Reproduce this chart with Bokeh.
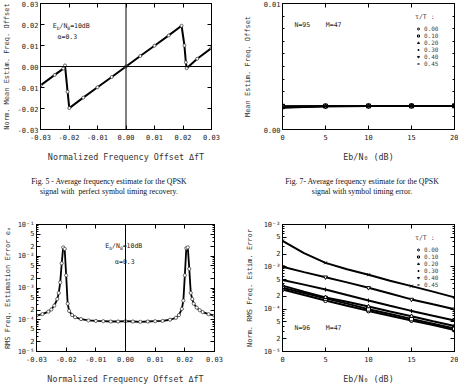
from bokeh.plotting import figure
from bokeh.models import (Range1d, FixedTicker, LinearAxis, LogAxis, Span, Label,
                          Legend, LegendItem, Div, CustomJSTickFormatter)
from bokeh.layouts import column, row
from bokeh.embed import file_html
from bokeh.resources import INLINE

FONT = "DejaVu Sans Mono"
TICK_PX = 7
LBL_PX = 8.4
YLBL_PX = 7

# ---------------- data ----------------
# Fig.5 top: mean frequency estimate vs normalized offset
f5_x = [-0.03, -0.025, -0.022, -0.0214, -0.0205, -0.0199, -0.015, -0.01, -0.005, 0.0,
        0.005, 0.01, 0.015, 0.0195, 0.0205, 0.021, 0.0213, 0.025, 0.03]
f5_y = [-0.0090, -0.0040, -0.0010, 0.0005, -0.0120, -0.0198, -0.0148, -0.0099, -0.0050, 0.0,
        0.0050, 0.0099, 0.0148, 0.0194, 0.0100, 0.0020, -0.0008, 0.0037, 0.0088]

# Fig.5 bottom: RMS estimation error vs normalized offset
f6_x = [-0.03, -0.028, -0.026, -0.025, -0.024, -0.023, -0.0225, -0.022, -0.0215, -0.021,
        -0.0205, -0.02, -0.0195, -0.019, -0.018, -0.017, -0.015, -0.0125, -0.01, -0.0075,
        -0.005, -0.0025, 0.0, 0.0025, 0.005, 0.0075, 0.01, 0.0125, 0.015, 0.017, 0.018,
        0.019, 0.0195, 0.02, 0.0205, 0.021, 0.0215, 0.022, 0.0225, 0.023, 0.024, 0.025,
        0.026, 0.028, 0.03]
f6_y = [1.35e-4, 1.5e-4, 1.8e-4, 2.1e-4, 2.8e-4, 4.5e-4, 7e-4, 1.5e-3, 6e-3, 1.9e-2,
        1.7e-2, 2.5e-3, 3.2e-4, 1.9e-4, 1.4e-4, 1.2e-4, 1.05e-4, 9.5e-5, 9.2e-5, 9e-5,
        8.8e-5, 8.8e-5, 9e-5, 8.8e-5, 8.6e-5, 8.8e-5, 9e-5, 9.2e-5, 1.0e-4, 1.15e-4, 1.4e-4,
        2.2e-4, 4e-4, 2.5e-3, 1.8e-2, 1.9e-2, 4e-3, 7e-4, 4.5e-4, 3.2e-4, 2.4e-4, 2e-4,
        1.75e-4, 1.5e-4, 1.35e-4]

tau_labels = ["0.00", "0.10", "0.20", "0.30", "0.40", "0.45"]
tau_markers = ["circle", "square", "triangle", "cross", "inverted_triangle", "x"]

# Fig.7 top: mean estimate vs Eb/N0 for each tau/T
f7_x = [0, 5, 10, 15, 20]
f7_y = {
    "0.00": [0.00186, 0.00187, 0.00187, 0.00188, 0.00188],
    "0.10": [0.00184, 0.00186, 0.00187, 0.00187, 0.00188],
    "0.20": [0.00181, 0.00185, 0.00186, 0.00187, 0.00187],
    "0.30": [0.00178, 0.00184, 0.00186, 0.00187, 0.00187],
    "0.40": [0.00175, 0.00183, 0.00185, 0.00186, 0.00187],
    "0.45": [0.00172, 0.00182, 0.00185, 0.00186, 0.00187],
}

# Fig.7 bottom: RMS error vs Eb/N0 for each tau/T
f8_x = [0, 2.5, 5, 7.5, 10, 12.5, 15, 17.5, 20]
f8_marker_x = [0, 5, 10, 15, 20]
f8_y = {
    "0.00": [2.9e-4, 2.15e-4, 1.6e-4, 1.2e-4, 9.1e-5, 7e-5, 5.4e-5, 4.2e-5, 3.2e-5],
    "0.10": [3.2e-4, 2.4e-4, 1.8e-4, 1.35e-4, 1.0e-4, 7.7e-5, 5.9e-5, 4.5e-5, 3.5e-5],
    "0.20": [3.6e-4, 2.6e-4, 1.9e-4, 1.5e-4, 1.15e-4, 8.8e-5, 6.8e-5, 5.2e-5, 4.0e-5],
    "0.30": [4.9e-4, 3.8e-4, 2.9e-4, 2.15e-4, 1.6e-4, 1.2e-4, 9.1e-5, 7e-5, 5.4e-5],
    "0.40": [1.0e-3, 7.5e-4, 5.7e-4, 4.3e-4, 3.2e-4, 2.35e-4, 1.7e-4, 1.3e-4, 1.0e-4],
    "0.45": [4.1e-3, 2.1e-3, 1.24e-3, 8.8e-4, 6.5e-4, 4.7e-4, 3.5e-4, 2.6e-4, 1.9e-4],
}

# ticks
off_ticks = [-0.03, -0.02, -0.01, 0.0, 0.01, 0.02, 0.03]
off_labels = ["-0.03", "-0.02", "-0.01", "0.00", "0.01", "0.02", "0.03"]
snr_ticks = [0, 5, 10, 15, 20]
snr_labels = ["0", "5", "10", "15", "20"]
mean_ticks = [0.0, 0.01]
mean_labels = ["0.00", "0.01"]
mean_minor = [0.001 * k for k in range(1, 10)]
log6_ticks = [1e-5, 2e-5, 5e-5, 1e-4, 2e-4, 5e-4, 1e-3, 2e-3, 5e-3, 1e-2, 2e-2, 5e-2, 1e-1]
log6_labels = ["10⁻⁵", "2", "5", "10⁻⁴", "2", "5", "10⁻³", "2", "5", "10⁻²", "2", "5", "10⁻¹"]
log8_ticks = [1e-5, 2e-5, 5e-5, 1e-4, 2e-4, 5e-4, 1e-3, 2e-3, 5e-3, 1e-2]
log8_labels = ["10⁻⁵", "2", "5", "10⁻⁴", "2", "5", "10⁻³", "2", "5", "10⁻²"]
log8_minor = [m * 10.0 ** e for e in range(-5, -2) for m in (3, 4, 6, 7, 8, 9)]
log6_minor = [m * 10.0 ** e for e in range(-5, -1) for m in (3, 4, 6, 7, 8, 9)]

EMPTY = CustomJSTickFormatter(code="return ''")


def base_fig(w, h, xr, yr, ytype, mbl, mbr, mbt, mbb):
    p = figure(width=w, height=h, x_range=Range1d(*xr), y_range=Range1d(*yr),
               y_axis_type=ytype, output_backend="svg", toolbar_location=None,
               min_border_left=mbl, min_border_right=mbr, min_border_top=mbt,
               min_border_bottom=mbb)
    p.grid.visible = False
    p.outline_line_color = "black"
    p.outline_line_width = 1
    p.background_fill_color = "white"
    p.border_fill_color = "white"
    return p


def style_axis(ax, ticks, labels=None, minor=None, empty=False):
    ax.ticker = FixedTicker(ticks=ticks, minor_ticks=minor or [])
    ax.major_tick_in = 4
    ax.major_tick_out = 0
    ax.minor_tick_in = 2
    ax.minor_tick_out = 0
    ax.axis_line_color = "black"
    ax.major_tick_line_color = "black"
    ax.minor_tick_line_color = "black"
    ax.major_label_text_font = FONT
    ax.major_label_text_font_size = f"{TICK_PX}px"
    ax.major_label_text_color = "#222"
    ax.axis_label_text_font = FONT
    ax.axis_label_text_font_size = f"{LBL_PX}px"
    ax.axis_label_text_font_style = "normal"
    ax.axis_label_text_color = "#333"
    if empty:
        ax.formatter = EMPTY
        ax.major_label_standoff = 0
    elif labels is not None:
        ax.major_label_overrides = {t: l for t, l in zip(ticks, labels)}


def style_y_label(ax, text, standoff):
    ax.axis_label = text
    ax.axis_label_text_font_size = f"{YLBL_PX}px"
    ax.axis_label_standoff = standoff
    ax.major_label_standoff = 2


def style_x_label(ax, text):
    ax.axis_label = text
    ax.major_label_standoff = 4
    ax.axis_label_standoff = 9


def mirror(p, xticks, yticks, xminor=None, yminor=None, ylog=False):
    top = LinearAxis()
    style_axis(top, xticks, minor=xminor, empty=True)
    p.add_layout(top, "above")
    right = LogAxis() if ylog else LinearAxis()
    style_axis(right, yticks, minor=yminor, empty=True)
    p.add_layout(right, "right")


def rich_label(p, x, y, parts, size, color="#222"):
    cw = 0.602
    sub = size * 0.72
    off = 0.0
    for t, s in parts:
        fs = sub if s else size
        p.add_layout(Label(x=x, y=y, text=t, x_offset=off, y_offset=-2.2 if s else 0,
                           text_font=FONT, text_font_size=f"{fs:.1f}px",
                           text_baseline="middle", text_align="left", text_color=color))
        off += len(t) * cw * fs


EBN0 = [("E", False), ("b", True), ("/N", False), ("0", True), ("=10dB", False)]

W1, W2 = 232, 226
H1, H2 = 164, 179

# ---------------- Fig.5 top ----------------
p1 = base_fig(W1, H1, (-0.03, 0.03), (-0.03, 0.03), "linear", 35, 21, 3, 34)
style_axis(p1.xaxis[0], off_ticks, off_labels)
style_axis(p1.yaxis[0], off_ticks, off_labels)
style_x_label(p1.xaxis[0], "Normalized Frequency Offset \u0394fT")
style_y_label(p1.yaxis[0], "Norm. Mean Estim. Freq. Offset", 3)
mirror(p1, off_ticks, off_ticks)
p1.add_layout(Span(location=0, dimension="width", line_color="black", line_width=1))
p1.add_layout(Span(location=0, dimension="height", line_color="black", line_width=1))
p1.line(f5_x, f5_y, line_color="black", line_width=2)
p1.scatter(f5_x, f5_y, marker="circle", size=3, fill_color="white", line_color="#444",
           line_width=0.8)
rich_label(p1, -0.0257, 0.0193, EBN0, 6.5)
rich_label(p1, -0.0240, 0.0142, [("\u03b1=0.3", False)], 6.5)

# ---------------- Fig.7 top ----------------
p2 = base_fig(W2, H1, (0, 20), (0, 0.01), "linear", 50, 4, 3, 34)
style_axis(p2.xaxis[0], snr_ticks, snr_labels)
style_axis(p2.yaxis[0], mean_ticks, mean_labels, minor=mean_minor)
style_x_label(p2.xaxis[0], "Eb/N\u2080 (dB)")
style_y_label(p2.yaxis[0], "Mean Estim. Freq. Offset", 9)
mirror(p2, snr_ticks, mean_ticks, yminor=mean_minor)
items2 = []
for lab, mk in zip(tau_labels, tau_markers):
    p2.line(f7_x, f7_y[lab], line_color="black", line_width=1.6)
    r = p2.scatter(f7_x, f7_y[lab], marker=mk, size=4, fill_color="white",
                   line_color="black", line_width=1)
    items2.append(LegendItem(label=lab, renderers=[r]))
rich_label(p2, 1.4, 0.0083, [("N=95\u00a0\u00a0\u00a0\u00a0M=47", False)], 6.5)

# ---------------- Fig.5 bottom ----------------
p3 = base_fig(W1, H2, (-0.03, 0.03), (1e-5, 1e-1), "log", 35, 18, 17, 34)
style_axis(p3.xaxis[0], off_ticks, off_labels)
style_axis(p3.yaxis[0], log6_ticks, log6_labels, minor=log6_minor)
style_x_label(p3.xaxis[0], "Normalized Frequency Offset \u0394fT")
style_y_label(p3.yaxis[0], "RMS Freq. Estimation Error e\u2090", 3)
mirror(p3, off_ticks, log6_ticks, yminor=log6_minor, ylog=True)
p3.add_layout(Span(location=0, dimension="height", line_color="black", line_width=1))
p3.line(f6_x, f6_y, line_color="black", line_width=1.8)
p3.scatter(f6_x, f6_y, marker="circle", size=3.2, fill_color="white", line_color="#444",
           line_width=0.8)
rich_label(p3, -0.0068, 2.1e-2, EBN0, 6.5)
rich_label(p3, -0.0035, 6.7e-3, [("\u03b1=0.3", False)], 6.5)

# ---------------- Fig.7 bottom ----------------
p4 = base_fig(W2, H2, (0, 20), (1e-5, 1e-2), "log", 50, 4, 17, 34)
style_axis(p4.xaxis[0], snr_ticks, snr_labels)
style_axis(p4.yaxis[0], log8_ticks, log8_labels, minor=log8_minor)
style_x_label(p4.xaxis[0], "Eb/N\u2080 (dB)")
style_y_label(p4.yaxis[0], "Norm. RMS Freq. Estim. Error", 7)
mirror(p4, snr_ticks, log8_ticks, yminor=log8_minor, ylog=True)
items4 = []
for lab, mk in zip(tau_labels, tau_markers):
    ys = f8_y[lab]
    p4.line(f8_x, ys, line_color="black", line_width=2)
    mx = [x for x in f8_x if x in f8_marker_x]
    my = [y for x, y in zip(f8_x, ys) if x in f8_marker_x]
    r = p4.scatter(mx, my, marker=mk, size=4, fill_color="white", line_color="black",
                   line_width=1)
    items4.append(LegendItem(label=lab, renderers=[r]))
rich_label(p4, 1.4, 3.5e-5, [("N=96\u00a0\u00a0\u00a0\u00a0M=47", False)], 6.5)


def add_legend(p, items, margin):
    lg = Legend(items=items, title="\u03c4/T :", location="top_right")
    lg.title_text_font = FONT
    lg.title_text_font_size = "6.5px"
    lg.title_text_font_style = "normal"
    lg.title_standoff = 4
    lg.label_text_font = FONT
    lg.label_text_font_size = "6px"
    lg.label_height = 5
    lg.glyph_height = 5
    lg.glyph_width = 6
    lg.label_standoff = 3
    lg.spacing = 0
    lg.padding = 1
    lg.margin = margin
    lg.border_line_color = None
    lg.background_fill_alpha = 0
    p.add_layout(lg)


add_legend(p2, items2, 10)
add_legend(p4, items4, 10)

# ---------------- captions ----------------
cap_style = {"font-family": "'Liberation Serif', 'DejaVu Serif', serif", "font-size": "7.8px",
             "line-height": "10px", "color": "#111"}
cap5 = Div(text='<div style="width:%dpx; text-align:center; padding-top:8px">'
                'Fig. 5 - Average frequency estimate for the QPSK<br>'
                'signal with&nbsp; perfect symbol timing recovery.</div>' % (W1 - 24),
           width=W1, height=33, styles=cap_style)
cap7 = Div(text='<div style="width:%dpx; text-align:center; padding-top:8px">'
                'Fig. 7- Average frequency estimate for the QPSK<br>'
                'signal with symbol timing error.</div>' % (W2 + 4),
           width=W2, height=33, styles=cap_style)

layout = column(row(p1, p2), row(cap5, cap7), row(p3, p4))
open("out.html", "w").write(file_html(layout, INLINE))
